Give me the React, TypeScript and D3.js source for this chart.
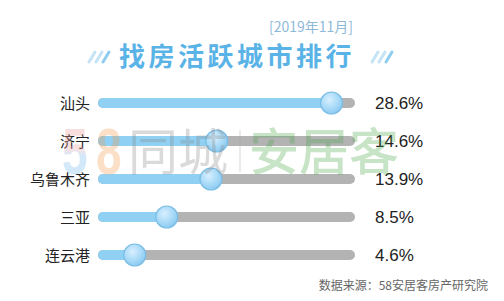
import React from "react";
import * as d3 from "d3";

const cities = ["汕头", "济宁", "乌鲁木齐", "三亚", "连云港"];
const values = [28.6, 14.6, 13.9, 8.5, 4.6];
const valueLabels = ["28.6%", "14.6%", "13.9%", "8.5%", "4.6%"];
const title = "找房活跃城市排行";
const subtitle = "[2019年11月]";
const source = "数据来源：58安居客房产研究院";

const W = 504;
const H = 301;
const CJK = "'Noto Sans CJK SC', 'Noto Sans', sans-serif";

export default function App() {
  const x = d3.scaleLinear().domain([0, 30]).range([97, 343]);
  const y = d3.scalePoint<string>().domain(cities).range([103, 255]);
  const trackStart = 103;
  const trackEnd = 350;

  const slashes = (x0: number) =>
    [0, 1, 2].map((i) => (
      <line
        key={i}
        x1={x0 + i * 7}
        y1={62}
        x2={x0 + i * 7 + 6}
        y2={52}
        stroke={i === 2 ? "#8fcdf0" : "#c4e4f6"}
        strokeWidth={3}
        strokeLinecap="round"
      />
    ));

  return (
    <svg
      width={W}
      height={H}
      style={{ position: "absolute", left: 0, top: 0, background: "#fff" }}
      fontFamily={CJK}
    >
      <defs>
        <radialGradient id="thumb" cx="40%" cy="35%" r="70%">
          <stop offset="0%" stopColor="#d8efff" />
          <stop offset="60%" stopColor="#a6d9f7" />
          <stop offset="100%" stopColor="#86c6ee" />
        </radialGradient>
        <linearGradient id="five" x1="0" y1="0" x2="0" y2="1">
          <stop offset="0%" stopColor="#f08a8a" />
          <stop offset="45%" stopColor="#f0a0a0" />
          <stop offset="55%" stopColor="#6fb6ea" />
          <stop offset="100%" stopColor="#6fb6ea" />
        </linearGradient>
      </defs>
      <rect width={W} height={H} fill="#fff" />

      <text x={353} y={32} textAnchor="end" fontSize={14} fill="#8eb9d9">
        {subtitle}
      </text>
      <text
        x={237}
        y={66}
        textAnchor="middle"
        fontSize={26}
        fontWeight={700}
        fill="#5ab3e6"
        letterSpacing={3.5}
      >
        {title}
      </text>
      {slashes(89)}
      {slashes(372)}

      {cities.map((c, i) => {
        const cy = y(c) as number;
        const tx = x(values[i]);
        return (
          <g key={c}>
            <text
              x={90}
              y={cy + 5.5}
              textAnchor="end"
              fontSize={15}
              fill="#222"
            >
              {c}
            </text>
            <line
              x1={trackStart}
              x2={trackEnd}
              y1={cy}
              y2={cy}
              stroke="#b3b3b3"
              strokeWidth={10}
              strokeLinecap="round"
            />
            <line
              x1={trackStart}
              x2={tx}
              y1={cy}
              y2={cy}
              stroke="#8fd0f3"
              strokeWidth={10}
              strokeLinecap="round"
            />
            <circle
              cx={tx}
              cy={cy}
              r={11}
              fill="url(#thumb)"
              stroke="#79bde6"
              strokeWidth={1.2}
            />
            <text
              x={375}
              y={cy + 6}
              fontSize={17}
              fontWeight={300}
              fill="#222"
              fontFamily="'Liberation Sans', Arial, sans-serif"
            >
              {valueLabels[i]}
            </text>
          </g>
        );
      })}

      <g opacity={0.3}>
        <g transform="translate(62,174) scale(0.72,1)">
          <text x={0} y={0} fontSize={64} fontWeight={700} fill="url(#five)" fontFamily="'Liberation Sans', sans-serif">
            5
          </text>
        </g>
        <g transform="translate(96,174) scale(0.72,1)">
          <text x={0} y={0} fontSize={64} fontWeight={700} fill="#f39a4a" fontFamily="'Liberation Sans', sans-serif">
            8
          </text>
        </g>
        <text x={128} y={170} fontSize={50} fill="#888" fontWeight={400}>
          同城
        </text>
        <line x1={240} x2={240} y1={130} y2={172} stroke="#aaa" strokeWidth={1.5} />
        <text x={249} y={170} fontSize={50} fill="#4aa84a" fontWeight={500}>
          安居客
        </text>
      </g>

      <text x={488} y={290} textAnchor="end" fontSize={12} fill="#666">
        {source}
      </text>
    </svg>
  );
}
